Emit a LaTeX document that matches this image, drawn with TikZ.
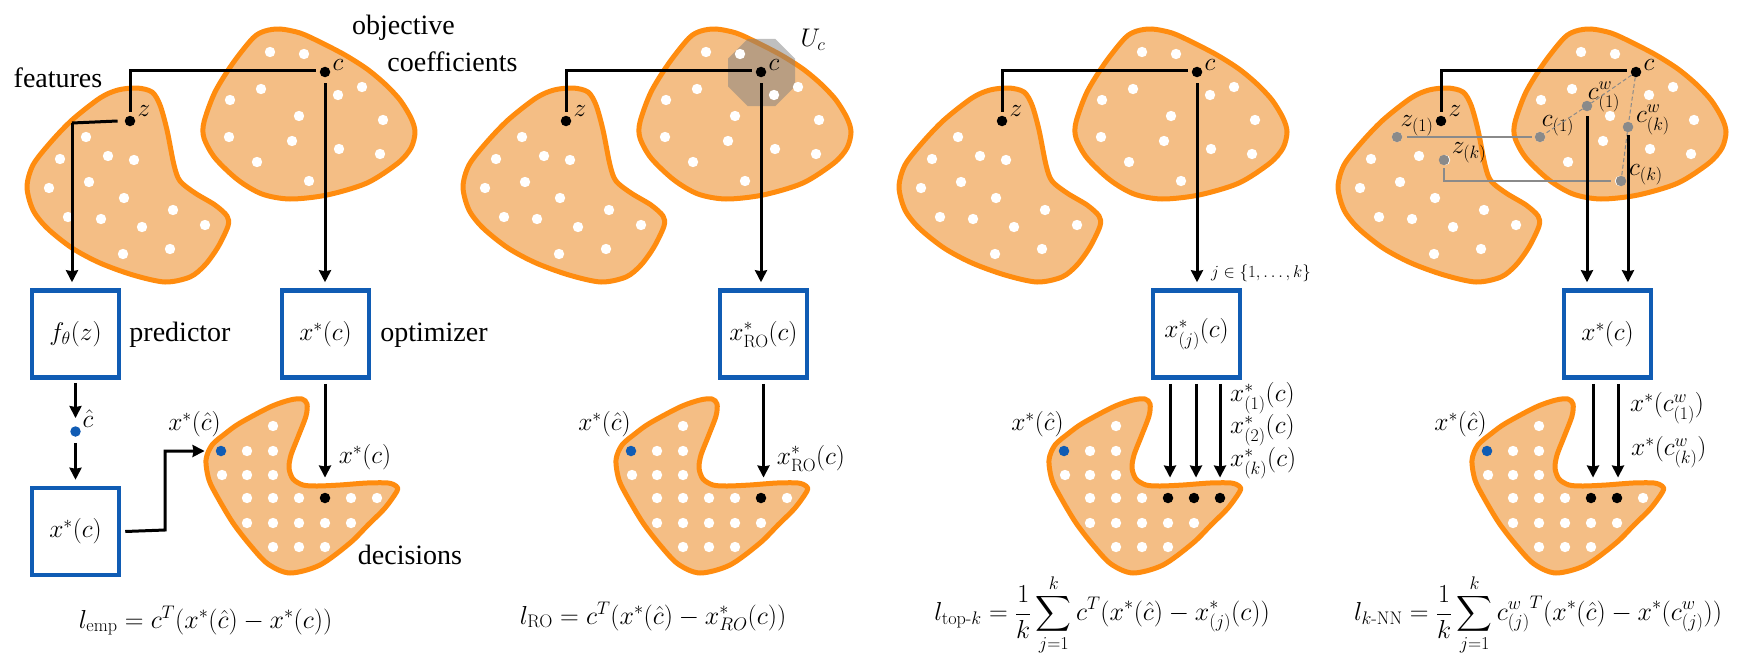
\documentclass[tikz,border=0pt]{standalone}
\usepackage{fix-cm}
\usepackage{amsmath}
\usepackage[no-math]{fontspec}
\newfontfamily\serif{Liberation Serif}
\usetikzlibrary{arrows.meta}
\definecolor{blobline}{RGB}{255,140,15}
\definecolor{blobfill}{RGB}{244,190,133}
\definecolor{boxblue}{RGB}{16,92,180}
\definecolor{nbgray}{RGB}{138,138,138}
\newcommand{\mfont}{\fontsize{25.5}{30}\selectfont}
\newcommand{\eqfont}{\fontsize{26}{30}\selectfont}
\tikzset{
blob/.style={draw=blobline,fill=blobfill,line width=5pt,line join=round},
solver/.style={draw=boxblue,line width=4.5pt,fill=white,minimum size=87pt},
conn/.style={line width=3pt},
arr/.style={conn,-{Stealth[length=12pt,width=12pt,inset=1pt]}},
nbline/.style={draw=nbgray,line width=2.4pt},
nbdash/.style={draw=nbgray,line width=1pt,dash pattern=on 4pt off 2.5pt},
bdot/.style={circle,fill=black,minimum size=10.5pt},
gdot/.style={circle,fill=nbgray,minimum size=10.5pt},
bluedot/.style={circle,fill=boxblue,minimum size=10.5pt},
txt/.style={font=\fontsize{28}{32}\selectfont\serif},
eqn/.style={font=\eqfont},
}
% the two upper sets
\newcommand{\topblobs}{
\draw[blob] plot[smooth cycle] coordinates {(137,88)(152,92)(160,105)(167,130)(174,165)(180,181)(195,193)(215,205)(227,216)(228,226)(218,247)(205,265)(190,277)(165,282)(133,275)(100,263)(72,248)(47,228)(33,210)(27,187)(33,165)(50,143)(72,120)(100,98)(118,90)};
\draw[blob] plot[smooth cycle] coordinates {(280,29)(300,33)(320,42)(345,55)(367,69)(385,84)(400,100)(411,118)(415,132)(411,148)(398,163)(367,183)(327,195)(290,199)(262,194)(238,180)(215,158)(204,138)(204,122)(215,92)(233,63)(253,38)(265,31)};
}
\newcommand{\toppts}[1]{
\foreach \px/\py in {86/137,60/159,108/156,134/160,49/188,89/182,124/198,68/217,101/219,142/227,173/210,205/225,123/254,170/249,
270/52,304/54,261/89,230/100,338/95,362/87,299/116,383/120,229/137,292/141,339/149,380/154,257/162,309/181}
{
\fill[white] (\px,\py) circle (5.2);
}
\node[bdot] (z#1) at (130,121) {};
\node[bdot] (c#1) at (325,72) {};
\node (lz#1) at (144,111) {$z$};
\node (lc#1) at (338,65) {$c$};
\draw[conn] ([shift={(-4pt,2pt)}]c#1.west) -| ([yshift=4pt]z#1.north);
}
% the lower set, with its grid of points
\newcommand{\decblob}[1]{
\draw[blob] plot[smooth cycle] coordinates {(302,399)(307,404)(306,416)(298,437)(291,455)(289,468)(293,479)(303,485)(317,486)(340,485)(367,483)(388,483)(396,486)(397,491)(385,508)(368,525)(350,543)(320,565)(290,573)(268,564)(250,545)(233,523)(218,498)(209,480)(206,460)(212,445)(226,433)(240,423)(270,407)(290,400)};
\foreach \px/\py in {273/426,247/451,273/451,222/475,247/475,273/475,247/498,273/498,299/498,
247/523,273/523,299/523,325/523,351/523,273/547,299/547,325/547}
{
\fill[white] (\px,\py) circle (5.2);
}
\node[bluedot] (x#1) at (221,451) {};
\node (lx#1) at (194.5,424) {$x^*(\hat{c})$};
}
\begin{document}
\begin{tikzpicture}[x=1pt,y=-1pt,font=\mfont,line cap=butt,every node/.style={inner sep=0pt}]
\useasboundingbox (0,0) rectangle (1755,661);
% first panel
\topblobs
\toppts{A}
\decblob{A}
\foreach \px in {351,377}
{
\fill[white] (\px,498) circle (5.2);
}
\node[bdot] (dA) at (325,498) {};
\node[solver] (fA) at (75.5,334) {$f_\theta(z)$};
\node[solver] (oA) at (325.5,334) {$x^*(c)$};
\node[solver] (eA) at (75.5,531.5) {$x^*(c)$};
\node[bluedot] (hA) at (75.5,431.5) {};
\node (lhA) at (88,419) {$\hat{c}$};
\node (ldA) at (365,457) {$x^*(c)$};
\node[txt] (tfeat) at (58,78) {features};
\node[txt] (tobj) at (403.5,28) {objective};
\node[txt] (tcoef) at (452.5,62) {coefficients};
\node[txt] (tpred) at (180,335) {predictor};
\node[txt] (topt) at (434,335) {optimizer};
\node[txt] (tdec) at (410,555) {decisions};
\coordinate (turnA) at (72,123);
\coordinate (bendA) at (165,530);
\draw[conn] ([xshift=-7pt]zA.west) -- (turnA);
\draw[arr] (turnA) -- ([yshift=6pt]turnA |- fA.north);
\draw[arr] ([yshift=-6pt]cA.south) -- ([yshift=6pt]cA.south |- oA.north);
\draw[arr] ([yshift=-3pt]fA.south) -- ([yshift=8pt]hA.north);
\draw[arr] ([yshift=-6pt]hA.south) -- ([yshift=6pt]eA.north);
\draw[arr] ([xshift=4pt]eA.east) -- (bendA) |- ([xshift=-11pt]xA.west);
\draw[arr] ([yshift=-4pt]dA.north |- oA.south) -- ([yshift=15pt]dA.north);
\node[eqn,anchor=base] (fmA) at (205.5,628) {$l_{\mathrm{emp}}=c^T(x^*(\hat{c})-x^*(c))$};
% second panel
\begin{scope}[shift={(436,0)}]
\topblobs
\fill[gray,opacity=.5] (325.5,72.5) +(-13.9,-33.5) -- +(13.9,-33.5) -- +(33.5,-13.9) -- +(33.5,13.9) -- +(13.9,33.5) -- +(-13.9,33.5) -- +(-33.5,13.9) -- +(-33.5,-13.9) -- cycle;
\toppts{B}
\node (luB) at (377,40) {$U_c$};
\node[solver] (oB) at (327.5,334) {$x^*_{\mathrm{RO}}(c)$};
\end{scope}
\begin{scope}[shift={(410,0)}]
\decblob{B}
\foreach \px in {325,377}
{
\fill[white] (\px,498) circle (5.2);
}
\node[bdot] (dB) at (351,498) {};
\node (ldB) at (401,458) {$x^*_{\mathrm{RO}}(c)$};
\end{scope}
\draw[arr] ([yshift=-6pt]cB.south) -- ([yshift=6pt]cB.south |- oB.north);
\draw[arr] ([yshift=-4pt]oB.south) -- ([yshift=15pt]oB.south |- dB.north);
\node[eqn,anchor=base] (fmB) at (653,624) {$l_{\mathrm{RO}}=c^T(x^*(\hat{c})-x^*_{RO}(c))$};
% third panel
\begin{scope}[shift={(872,0)}]
\topblobs
\toppts{C}
\node[solver] (oC) at (324.5,334) {$x^*_{(j)}(c)$};
\end{scope}
\begin{scope}[shift={(843,0)}]
\decblob{C}
\node[bdot] (dC) at (325,498) {};
\node[bdot] (dCb) at (351,498) {};
\node[bdot] (dCc) at (377,498) {};
\end{scope}
\node (ljC) at (1261,273) {\fontsize{17}{20}\selectfont$j\in\{1,\dots,k\}$};
\node[anchor=west] (ldC) at (1230,398) {$x^*_{(1)}(c)$};
\node[anchor=west] (ldCb) at (1230,430) {$x^*_{(2)}(c)$};
\node[anchor=west] (ldCc) at (1230,463) {$x^*_{(k)}(c)$};
\draw[arr] ([yshift=-6pt]cC.south) -- ([yshift=6pt]cC.south |- oC.north);
\draw[arr] ([shift={(2pt,-4pt)}]dC.north |- oC.south) -- ([shift={(2pt,15pt)}]dC.north);
\draw[arr] ([shift={(2pt,-4pt)}]dCb.north |- oC.south) -- ([shift={(2pt,15pt)}]dCb.north);
\draw[arr] ([yshift=-4pt]dCc.north |- oC.south) -- ([yshift=15pt]dCc.north);
\node[eqn] (fmC) at (1102,615) {$\displaystyle l_{\text{top-}k}=\frac{1}{k}\sum_{j=1}^{k}c^T(x^*(\hat{c})-x^*_{(j)}(c))$};
% fourth panel
\begin{scope}[shift={(1311,0)}]
\topblobs
\toppts{D}
\end{scope}
\node[solver] (oD) at (1607.5,334) {$x^*(c)$};
\node[gdot] (c1D) at (1540,137) {};
\node[gdot] (ckD) at (1621,181) {};
\node[gdot] (cw1D) at (1587,106) {};
\node[gdot] (cwkD) at (1628,127) {};
\node[gdot] (z1D) at (1397,137) {};
\node[gdot] (zkD) at (1444,160) {};
\node (lz1D) at (1417,126) {$z_{(1)}$};
\node (lzkD) at (1469,153) {$z_{(k)}$};
\node (lc1D) at (1558,126) {$c_{(1)}$};
\node (lckD) at (1646,175) {$c_{(k)}$};
\node (lcw1D) at (1604,97) {$c^w_{(1)}$};
\node (lcwkD) at (1653,120) {$c^w_{(k)}$};
\draw[nbdash] (cD) -- (cw1D) -- (c1D);
\draw[nbdash] (cD) -- (cwkD) -- (ckD);
\draw[nbline] ([xshift=5pt]z1D.east) -- ([xshift=-3pt]c1D.west);
\draw[nbline] ([yshift=-3pt]zkD.south) |- ([xshift=-5pt]ckD.west);
\draw[arr] ([yshift=-5pt]cw1D.south) -- ([yshift=6pt]cw1D.south |- oD.north);
\draw[arr] ([yshift=-3pt]cwkD.south) -- ([yshift=6pt]cwkD.south |- oD.north);
\begin{scope}[shift={(1266,0)}]
\decblob{D}
\foreach \px in {377}
{
\fill[white] (\px,498) circle (5.2);
}
\node[bdot] (dD) at (325,498) {};
\node[bdot] (dDb) at (351,498) {};
\end{scope}
\node[anchor=west] (ldD) at (1630,408) {$x^*(c^w_{(1)})$};
\node[anchor=west] (ldDb) at (1631,452) {$x^*(c^w_{(k)})$};
\draw[arr] ([shift={(2pt,-4pt)}]dD.north |- oD.south) -- ([shift={(2pt,15pt)}]dD.north);
\draw[arr] ([shift={(1pt,-4pt)}]dDb.north |- oD.south) -- ([shift={(1pt,15pt)}]dDb.north);
\node[eqn] (fmD) at (1538,615) {$\displaystyle l_{k\text{-NN}}=\frac{1}{k}\sum_{j=1}^{k}{c^w_{(j)}}^T(x^*(\hat{c})-x^*(c^w_{(j)}))$};
\end{tikzpicture}
\end{document}
